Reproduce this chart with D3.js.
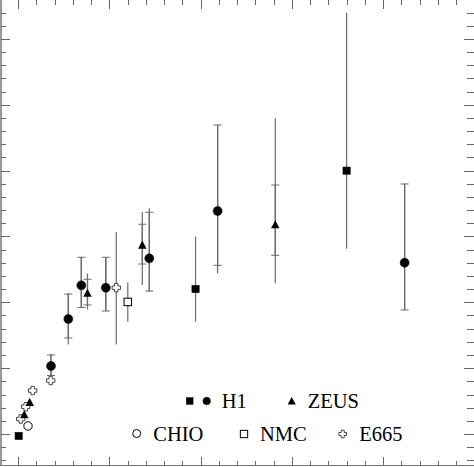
<!DOCTYPE html>
<html><head><meta charset="utf-8">
<script src="https://cdn.jsdelivr.net/npm/d3@7"></script>
<style>html,body{margin:0;padding:0;background:#fff;}svg{display:block;}</style>
</head><body>
<script>
// ---- data (axis units: x minor tick = 1, y minor tick = 1; no tick labels in original) ----
// each point: x, y, inner (stat, capped) lo/hi, outer (total) lo/hi; null = none
const h1Circles = [
  {x: 2.796, y: 5.164, slo: 4.44, shi: 6.00, tlo: 4.44, thi: 6.10},
  {x: 3.744, y: 8.734, slo: 7.29, shi: 10.63, tlo: 6.80, thi: 10.71},
  {x: 4.457, y: 11.29, slo: 9.61, shi: 13.42, tlo: 9.61, thi: 13.42},
  {x: 5.800, y: 11.11, slo: 9.34, shi: 13.42, tlo: 9.34, thi: 13.42},
  {x: 8.184, y: 13.34, slo: 10.86, shi: 16.84, tlo: 10.81, thi: 17.14},
  {x: 11.93, y: 16.94, slo: 12.81, shi: 23.47, tlo: 12.21, thi: 23.47},
  {x: 22.18, y: 13.01, slo: 9.42, shi: 18.99, tlo: 9.42, thi: 18.99}
];
const h1Squares = [
  {x: 1.025, y: -0.15, slo: null, shi: null, tlo: null, thi: null},
  {x: 10.72, y: 11.01, slo: null, shi: null, tlo: 8.53, thi: 14.99},
  {x: 19.00, y: 20.00, slo: null, shi: null, tlo: 14.07, thi: 32.00}
];
const zeusTriangles = [
  {x: 1.332, y: 1.44, slo: null, shi: null, tlo: null, thi: null},
  {x: 1.628, y: 2.38, slo: null, shi: null, tlo: null, thi: null},
  {x: 4.796, y: 10.67, slo: 9.80, shi: 11.75, tlo: 9.46, thi: 12.19},
  {x: 7.800, y: 14.32, slo: 12.91, shi: 15.93, tlo: 11.32, thi: 16.86},
  {x: 15.09, y: 15.87, slo: 13.57, shi: 18.91, tlo: 11.45, thi: 23.98}
];
const chioCircles = [
  {x: 1.535, y: 0.61, slo: null, shi: null, tlo: null, thi: null}
];
const nmcSquares = [
  {x: 7.005, y: 10.03, slo: null, shi: null, tlo: 8.53, thi: 11.51}
];
const e665Crosses = [
  {x: 1.135, y: 1.14, slo: null, shi: null, tlo: null, thi: null},
  {x: 1.409, y: 2.07, slo: null, shi: null, tlo: null, thi: null},
  {x: 1.792, y: 3.30, slo: null, shi: null, tlo: null, thi: null},
  {x: 2.779, y: 4.06, slo: null, shi: null, tlo: null, thi: null},
  {x: 6.375, y: 11.11, slo: null, shi: null, tlo: 6.80, thi: 15.34}
];
const legendRow1 = ["H1", "ZEUS"];
const legendRow2 = ["CHIO", "NMC", "E665"];
const xMinorTicks = d3.range(0, 27, 1);
const xMajorTicks = [1, 6, 11, 16, 21, 26];
const yMinorTicks = d3.range(-2, 33, 1);
const yMajorTicks = [0, 5, 10, 15, 20, 25, 30];

// ---- drawing ----
const W = 474, H = 467;
const svg = d3.select("body").append("svg").attr("width", W).attr("height", H);
const x = d3.scaleLinear().domain([0, 26]).range([0, 474.3]);
const y = d3.scaleLinear().domain([-2.354, 32.96]).range([465, 0]);

const tickCol = "#666";
const g = svg.append("g");
// frame
g.append("line").attr("x1", 1).attr("x2", 1).attr("y1", 0).attr("y2", 465.5)
  .attr("stroke", "#999").attr("stroke-width", 2);
g.append("line").attr("x1", 0).attr("x2", W).attr("y1", 465.5).attr("y2", 465.5)
  .attr("stroke", "#777").attr("stroke-width", 1.2);

function ticks(vals, len, isMajor) {
  vals.forEach(v => {
    const px = Math.round(x(v)) + 0.5;
    if (px > 2 && px < W) {
      g.append("line").attr("x1", px).attr("x2", px).attr("y1", 0).attr("y2", isMajor ? 9 : 5).attr("stroke", tickCol);
      g.append("line").attr("x1", px).attr("x2", px).attr("y1", 465).attr("y2", 465 - (isMajor ? 8 : 4)).attr("stroke", tickCol);
    }
  });
}
ticks(xMinorTicks.filter(v => !xMajorTicks.includes(v)), 0, false);
ticks(xMajorTicks, 0, true);
function yticks(vals, isMajor) {
  vals.forEach(v => {
    const py = Math.round(y(v)) + 0.5;
    if (py > 1 && py < 464) {
      g.append("line").attr("x1", 1).attr("x2", isMajor ? 10 : 6).attr("y1", py).attr("y2", py).attr("stroke", tickCol);
      g.append("line").attr("x1", W).attr("x2", W - (isMajor ? 10 : 7)).attr("y1", py).attr("y2", py).attr("stroke", tickCol);
    }
  });
}
yticks(yMinorTicks.filter(v => !yMajorTicks.includes(v)), false);
yticks(yMajorTicks, true);

// error bars
const errCol = "#6a6a6a";
function errorBars(data) {
  data.forEach(d => {
    const cx = x(d.x);
    if (d.tlo !== null) {
      g.append("line").attr("x1", cx).attr("x2", cx).attr("y1", y(d.tlo)).attr("y2", y(d.thi))
        .attr("stroke", errCol).attr("stroke-width", 1.2);
    }
    if (d.slo !== null) {
      g.append("line").attr("x1", cx).attr("x2", cx).attr("y1", y(d.slo)).attr("y2", y(d.shi))
        .attr("stroke", errCol).attr("stroke-width", 1.2);
      [d.slo, d.shi].forEach(v => {
        g.append("line").attr("x1", cx - 4).attr("x2", cx + 4).attr("y1", y(v)).attr("y2", y(v))
          .attr("stroke", errCol).attr("stroke-width", 1);
      });
    }
  });
}
[h1Circles, h1Squares, zeusTriangles, nmcSquares, e665Crosses].forEach(errorBars);

// marker shapes
function circle(sel, cx, cy, r, filled) {
  sel.append("circle").attr("cx", cx).attr("cy", cy).attr("r", r)
    .attr("fill", filled ? "#000" : "#fff").attr("stroke", "#000").attr("stroke-width", filled ? 0.5 : 1);
}
function square(sel, cx, cy, s, filled) {
  sel.append("rect").attr("x", cx - s / 2).attr("y", cy - s / 2).attr("width", s).attr("height", s)
    .attr("fill", filled ? "#000" : "#fff").attr("stroke", "#000").attr("stroke-width", filled ? 0.5 : 1);
}
function triangle(sel, cx, cy, s) {
  const h = s * 0.95;
  sel.append("path").attr("d", `M${cx},${cy - h * 0.6}L${cx + s / 2},${cy + h * 0.4}L${cx - s / 2},${cy + h * 0.4}Z`)
    .attr("fill", "#000");
}
function cross(sel, cx, cy, r, a) {
  const p = [[-a, -r], [a, -r], [a, -a], [r, -a], [r, a], [a, a], [a, r], [-a, r], [-a, a], [-r, a], [-r, -a], [-a, -a]];
  sel.append("path").attr("d", "M" + p.map(q => (cx + q[0]) + "," + (cy + q[1])).join("L") + "Z")
    .attr("fill", "#fff").attr("stroke", "#444").attr("stroke-width", 1).attr("stroke-linejoin", "round");
}

const m = svg.append("g");
e665Crosses.forEach(d => cross(m, x(d.x), y(d.y), 4.2, 1.7));
chioCircles.forEach(d => circle(m, x(d.x), y(d.y), 4.2, false));
nmcSquares.forEach(d => square(m, x(d.x), y(d.y), 7.5, false));
h1Squares.forEach(d => square(m, x(d.x), y(d.y), 7.3, true));
zeusTriangles.forEach(d => triangle(m, x(d.x), y(d.y), 8.5));
h1Circles.forEach(d => circle(m, x(d.x), y(d.y), 4.5, true));

// legend
const lg = svg.append("g");
const font = "'Liberation Serif','Times New Roman',Times,serif";
square(lg, 189.7, 401, 6.7, true);
circle(lg, 206.7, 401, 3.8, true);
triangle(lg, 291.7, 401.5, 8);
circle(lg, 136.7, 433.5, 4, false);
square(lg, 244, 434, 7.3, false);
cross(lg, 342.7, 434, 3.8, 1.5);
const txt = [
  {t: legendRow1[0], x: 221.7, y: 408},
  {t: legendRow1[1], x: 307.7, y: 408},
  {t: legendRow2[0], x: 153.3, y: 441},
  {t: legendRow2[1], x: 260, y: 441},
  {t: legendRow2[2], x: 359.3, y: 441}
];
lg.selectAll("text").data(txt).join("text")
  .attr("x", d => d.x).attr("y", d => d.y).text(d => d.t)
  .attr("font-family", font).attr("font-size", 20.5).attr("fill", "#000");
</script>
</body></html>
